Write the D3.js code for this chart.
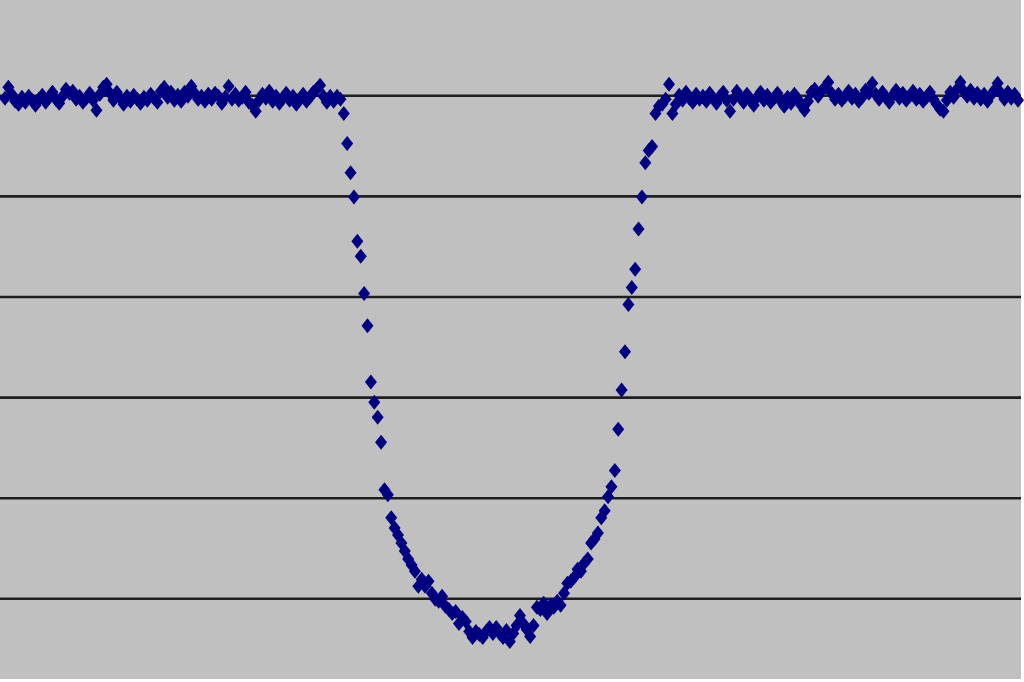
<!DOCTYPE html>
<html>
<head>
<meta charset="utf-8">
<script src="https://cdn.jsdelivr.net/npm/d3@7"></script>
<style>
  body { margin: 0; background: #fff; }
</style>
</head>
<body>
<script>
// Light curve: relative flux, one value per observation
var preTransit = [
  0.9997, 1.0008, 1.0001, 0.9994, 0.9991, 0.9998, 0.9993, 0.9999, 0.9995, 0.9990,
  0.9996, 1.0000, 0.9993, 0.9998, 1.0003, 0.9996, 0.9992, 0.9999, 1.0006, 1.0002,
  1.0004, 0.9996, 0.9999, 0.9993, 0.9997, 1.0002, 0.9995, 0.9985, 1.0001, 1.0008,
  1.0011, 1.0002, 0.9995, 1.0003, 0.9997, 0.9991, 0.9999, 0.9994, 1.0000, 0.9996,
  0.9992, 0.9998, 0.9995, 1.0001, 0.9997, 0.9993, 1.0004, 1.0008, 0.9998, 1.0003,
  0.9995, 1.0000, 0.9994, 1.0003, 0.9999, 1.0009, 1.0002, 0.9996, 0.9999, 0.9994,
  1.0001, 0.9996, 1.0002, 0.9999, 0.9992, 0.9998, 1.0009, 0.9996, 1.0001, 0.9995,
  0.9998, 1.0003, 0.9993, 0.9990, 0.9984, 0.9995, 1.0001, 0.9997, 1.0004, 0.9994,
  0.9999, 0.9992, 0.9997, 1.0002, 0.9995, 0.9999, 0.9991, 0.9996, 1.0001, 0.9994,
  0.9998, 1.0003, 1.0006, 1.0010, 0.9999, 0.9993, 0.9999, 0.9994
];

var inTransit = [
  0.9999, 0.9996, 0.9982, 0.9952, 0.9923, 0.9899, 0.9855, 0.9840, 0.9803, 0.9771,
  0.9715, 0.9695, 0.9680, 0.9655, 0.9608, 0.9603, 0.9580, 0.9570, 0.9563, 0.9555,
  0.9547, 0.9539, 0.9533, 0.9527, 0.9512, 0.9519, 0.9512, 0.9517, 0.9505, 0.9499,
  0.9497, 0.9502, 0.9492, 0.9489, 0.9485, 0.9487, 0.9475, 0.9481, 0.9477, 0.9467,
  0.9461, 0.9467, 0.9464, 0.9461, 0.9467, 0.9471, 0.9465, 0.9471, 0.9465, 0.9461,
  0.9468, 0.9457, 0.9465, 0.9473, 0.9483, 0.9475, 0.9469, 0.9462, 0.9473, 0.9491,
  0.9489, 0.9495, 0.9485, 0.9493, 0.9491, 0.9497, 0.9493, 0.9505, 0.9515, 0.9517,
  0.9521, 0.9529, 0.9527, 0.9535, 0.9539, 0.9555, 0.9559, 0.9565, 0.9580, 0.9587,
  0.9601, 0.9611, 0.9627, 0.9668, 0.9707, 0.9745, 0.9792, 0.9809, 0.9827, 0.9867,
  0.9899, 0.9933, 0.9945, 0.9949, 0.9982, 0.9989, 0.9991, 0.9996, 1.0011
];

var postTransit = [
  0.9982, 0.9991, 1.0000, 0.9995, 1.0003, 0.9997, 0.9993, 1.0001, 0.9996, 0.9999,
  0.9994, 1.0002, 0.9997, 0.9992, 0.9999, 1.0003, 0.9995, 0.9984, 0.9996, 1.0004,
  0.9998, 0.9993, 1.0001, 0.9996, 0.9990, 0.9998, 1.0003, 0.9995, 1.0000, 0.9993,
  0.9997, 1.0002, 0.9994, 0.9989, 0.9998, 0.9992, 1.0001, 0.9996, 0.9990, 0.9985,
  0.9994, 1.0003, 1.0006, 0.9999, 1.0004, 1.0008, 1.0013, 1.0002, 0.9996, 1.0001,
  0.9995, 0.9999, 1.0004, 0.9997, 1.0001, 0.9994, 0.9998, 1.0005, 1.0002, 1.0012,
  1.0001, 0.9996, 1.0003, 0.9998, 0.9993, 1.0000, 1.0005, 0.9997, 1.0002, 0.9995,
  0.9999, 1.0004, 0.9996, 1.0001, 0.9994, 0.9998, 1.0003, 0.9996, 0.9991, 0.9986,
  0.9984, 0.9995, 1.0003, 0.9998, 1.0006, 1.0013, 1.0004, 0.9999, 1.0005, 0.9997,
  1.0002, 0.9996, 1.0001, 0.9994, 1.0000, 1.0005, 1.0012, 1.0002, 0.9996, 1.0003,
  0.9997, 1.0001, 0.9995
];

var gridValues = [0.95, 0.96, 0.97, 0.98, 0.99, 1.00];

var flux = preTransit.concat(inTransit, postTransit);

var width = 1024,
    height = 682,
    plotW = 1021,
    plotH = 679;

var svg = d3.select("body").append("svg")
    .attr("width", width)
    .attr("height", height);

// gray plot area
svg.append("rect")
    .attr("width", plotW)
    .attr("height", plotH)
    .style("fill", "#c0c0c0");

var x = d3.scaleLinear()
    .domain([0, flux.length - 1])
    .range([5, 1018]);

var y = d3.scaleLinear()
    .domain([0.94198, 1.00947])
    .range([plotH, 0]);

// gridlines only, no labels
var grid = svg.append("g")
    .call(d3.axisLeft(y).tickValues(gridValues).tickSize(-plotW).tickFormat(""));
grid.select(".domain").remove();
grid.selectAll("line")
    .style("stroke", "#1e1e1e")
    .style("stroke-width", 2.6);

var diamond = "M0,-7.5L6,0L0,7.5L-6,0Z";

svg.append("g").selectAll("path")
    .data(flux)
    .enter()
    .append("path")
    .attr("d", diamond)
    .attr("transform", function(d, i) { return "translate(" + x(i) + "," + y(d) + ")"; })
    .style("fill", "#000080");
</script>
</body>
</html>
